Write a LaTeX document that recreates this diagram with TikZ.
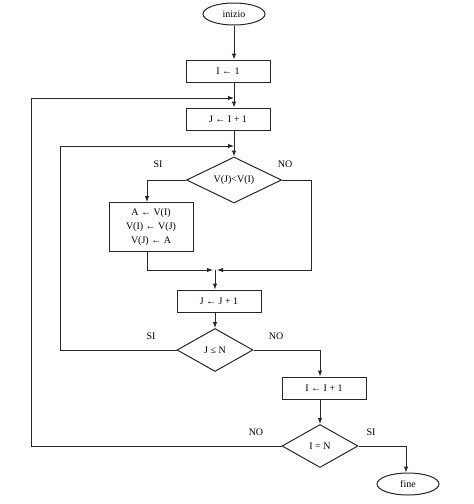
\documentclass[tikz,border=0pt]{standalone}
\usepackage{fontspec}
\setmainfont{Liberation Serif}
\usepackage{tikz}
\usetikzlibrary{arrows.meta}
\usetikzlibrary{shapes.geometric}

\begin{document}
\begin{tikzpicture}[x=1pt, y=-1pt,
	>={Latex[width=4.5pt,length=6pt]},
    every node/.style = {font=\fontsize{10}{14}\selectfont},
    ovale/.style = {ellipse, draw=black!85, line width=1pt,
                    minimum width=62pt, minimum height=22pt, inner sep=0pt},
    blocco/.style = {rectangle, draw=black!85, line width=1pt,
                     minimum width=84pt, minimum height=22pt, inner sep=1pt},
    test/.style = {diamond, aspect=2, draw=black!85, line width=1pt,
                   minimum width=76pt, minimum height=43pt, inner sep=0pt},
    etich/.style = {inner sep=0pt},
    linea/.style = {->, line width=1pt, draw=black!85}]
  \useasboundingbox (0,0) rectangle (474,504);

  \node (inizio) [ovale] at (234,14) {inizio};
  \node (init) [blocco] at (228,71) {I ← 1};
  \node (initj) [blocco] at (228,119) {J ← I + 1};
  \node (conf) [test, minimum width=95pt, minimum height=46pt] at (234,180) {V(J)<V(I)};
  \node (scambio) [blocco, minimum height=49pt, align=center] at (151,227)
        {A ← V(I)\\V(I) ← V(J)\\V(J) ← A};
  \node (incj) [blocco] at (219,301) {J ← J + 1};
  \node (testj) [test] at (215,350) {J ≤ N};
  \node (inci) [blocco] at (324,388) {I ← I + 1};
  \node (testi) [test] at (320,446) {I = N};
  \node (fine) [ovale] at (408,484) {fine};

  \coordinate (ciclo1) at (234,98);
  \coordinate (ciclo2) at (234,146);
  \coordinate (unione) at (215,270);

  \node (si1) [etich] at (158,164) {SI};
  \node (no1) [etich] at (285,164) {NO};
  \node (si2) [etich] at (151,336) {SI};
  \node (no2) [etich] at (276,336) {NO};
  \node (no3) [etich] at (256,432) {NO};
  \node (si3) [etich] at (371,432) {SI};

  \draw[linea] (inizio.south) -- (inizio.south |- init.north);
  \draw[linea] (ciclo1 |- init.south) -- (ciclo1 |- initj.north);
  \draw[linea] (ciclo2 |- initj.south) -- (conf.north);
  \draw[linea] (conf.west) -| ([xshift=-4pt]scambio.north);
  \draw[linea] (conf.east) -- ++(29,0) |- ([xshift=2pt]unione);
  \draw[linea] ([xshift=-4pt]scambio.south) |- ([xshift=-2pt]unione);
  \draw[linea] (unione) -- (unione |- incj.north);
  \draw[linea] (unione |- incj.south) -- (testj.north);
  \draw[linea] (testj.west) -- ++(-116,0) |- (ciclo2);
  \draw[linea] (testj.east) -| (testi.north |- inci.north);
  \draw[linea] (testi.north |- inci.south) -- (testi.north);
  \draw[linea] (testi.west) -- ++(-250,0) |- (ciclo1);
  \draw[linea] (testi.east) -| ([xshift=-2pt]fine.north);
\end{tikzpicture}
\end{document}
